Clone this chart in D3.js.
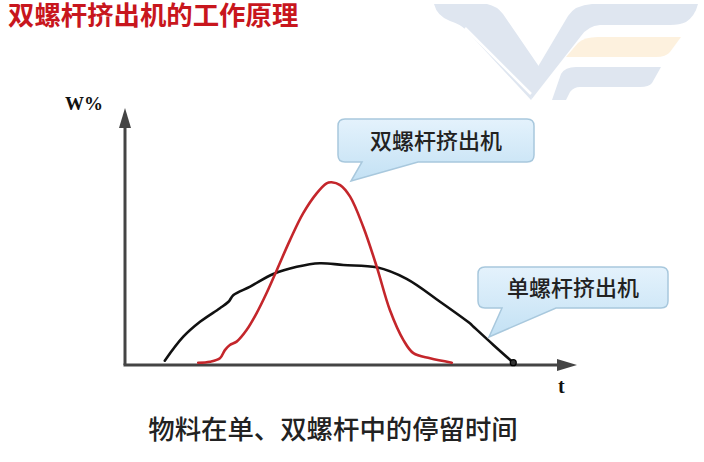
<!DOCTYPE html>
<html><head><meta charset="utf-8">
<script src="https://cdn.jsdelivr.net/npm/d3@7"></script>
<style>html,body{margin:0;padding:0;background:#fff;}svg{display:block;}</style>
</head><body>
<svg id="c" width="704" height="462"></svg>
<script>
// ---- data (arbitrary units: t 0..100, W% 0..100) ----
const twinT = [16.2,18.8,21.0,22.1,23.2,24.7,26.9,29.1,31.3,33.6,36.5,39.4,42.4,44.6,45.7,47.6,49.8,52.7,55.7,58.6,61.6,63.8,67.5,72.3];
const twinW = [0.9,1.3,2.6,5.8,7.8,9.1,13.6,20.1,27.9,37.0,48.6,59.0,66.8,70.7,71.1,70.0,65.5,53.8,38.2,21.4,9.7,4.6,2.6,0.9];
const singleT = [8.8,12.9,16.6,21.0,22.9,24.0,27.7,32.8,38.0,43.1,48.3,55.7,62.3,69.7,76.3,77.1,81.5,85.9];
const singleW = [1.7,11.0,16.8,22.1,24.6,27.2,30.5,35.4,38.2,39.6,38.9,38.0,33.5,24.6,16.2,14.9,7.8,0.9];
const seriesNames = ["双螺杆挤出机","单螺杆挤出机"];
const titleText = "双螺杆挤出机的工作原理";
const captionText = "物料在单、双螺杆中的停留时间";
const yLabel = "W%";
const xLabel = "t";

const svg = d3.select("#c");
const x = d3.scaleLinear().domain([0,100]).range([125,577]);
const y = d3.scaleLinear().domain([0,100]).range([365,108]);

// ---- watermark logo ----
const logo = svg.append("g");
const blue = "#dfe6f0", orange = "#fdf1de";
logo.append("path").attr("fill",blue)
  .attr("d","M434,4 L487,4 Q497,6 503,14 L540,68 L531,100 L466,30 Q460,24 450,21 Q437,16 434,4 Z");
logo.append("path").attr("fill",blue)
  .attr("d","M531,100 L536,70 L568,16 Q575,5 592,4 L698,4 Q695,16 686,22 Q680,25 670,25 L600,25 Q588,26 581,36 Z");
logo.append("path").attr("fill",orange)
  .attr("d","M566,57 L578,43 Q584,37 598,37 L681,37 L670,52 Q666,57 656,57 Z");
logo.append("path").attr("fill",blue)
  .attr("d","M552,100 L561,74 Q565,67 576,67 L661,67 L652,83 Q649,87 640,87 L580,87 Q574,87 570,92 L566,100 Z");
logo.append("line").attr("x1",465).attr("y1",28).attr("x2",531).attr("y2",94)
  .attr("stroke","#fff").attr("stroke-width",2.5);

// ---- title ----
svg.append("text").attr("x",8).attr("y",25).text(titleText)
  .attr("font-family","'Noto Sans CJK SC'").attr("font-weight","bold")
  .attr("font-size",26.4).attr("fill","#c8161d");

// ---- axes ----
const axisColor = "#444";
svg.append("line").attr("x1",x(0)).attr("y1",y(0)).attr("x2",x(0)).attr("y2",y(100)+14)
  .attr("stroke",axisColor).attr("stroke-width",3);
svg.append("line").attr("x1",x(0)-1.5).attr("y1",y(0)).attr("x2",x(100)-14).attr("y2",y(0))
  .attr("stroke",axisColor).attr("stroke-width",3);
svg.append("path").attr("fill",axisColor)
  .attr("d",`M${x(0)},${y(100)} L${x(0)-6},${y(100)+20} L${x(0)+6},${y(100)+20} Z`);
svg.append("path").attr("fill",axisColor)
  .attr("d",`M${x(100)},${y(0)} L${x(100)-20},${y(0)-6} L${x(100)-20},${y(0)+6} Z`);
svg.append("text").attr("x",65).attr("y",110).text(yLabel)
  .attr("font-family","'Liberation Serif'").attr("font-weight","bold").attr("font-size",19).attr("fill","#111");
svg.append("text").attr("x",558).attr("y",393).text(xLabel)
  .attr("font-family","'Liberation Serif'").attr("font-weight","bold").attr("font-size",20).attr("fill","#111");

// ---- curves ----
const line = d3.line().x(d=>x(d[0])).y(d=>y(d[1])).curve(d3.curveCatmullRom.alpha(0.5));
const single = d3.zip(singleT, singleW);
const twin = d3.zip(twinT, twinW);
svg.append("path").datum(single).attr("d",line).attr("fill","none")
  .attr("stroke","#111").attr("stroke-width",2.6).attr("stroke-linejoin","round").attr("stroke-linecap","round");
svg.append("path").datum(twin).attr("d",line).attr("fill","none")
  .attr("stroke","#c4262b").attr("stroke-width",2.6).attr("stroke-linejoin","round").attr("stroke-linecap","round");
const last = single[single.length-1];
svg.append("circle").attr("cx",x(last[0])).attr("cy",y(last[1])).attr("r",3)
  .attr("fill","#333").attr("stroke","#000").attr("stroke-width",1.2);

// ---- callouts ----
const defs = svg.append("defs");
const grad = defs.append("linearGradient").attr("id","cg").attr("x1",0).attr("y1",0).attr("x2",0).attr("y2",1);
grad.append("stop").attr("offset","0%").attr("stop-color","#e4f2fc");
grad.append("stop").attr("offset","100%").attr("stop-color","#c3e1f4");

function callout(bx,by,bw,bh,tx1,tx2,tipx,tipy,label){
  const r=7;
  const d = `M${bx+r},${by} L${bx+bw-r},${by} Q${bx+bw},${by} ${bx+bw},${by+r} L${bx+bw},${by+bh-r} Q${bx+bw},${by+bh} ${bx+bw-r},${by+bh}`+
    ` L${tx2},${by+bh} L${tipx},${tipy} L${tx1},${by+bh} L${bx+r},${by+bh} Q${bx},${by+bh} ${bx},${by+bh-r} L${bx},${by+r} Q${bx},${by} ${bx+r},${by} Z`;
  svg.append("path").attr("d",d).attr("fill","url(#cg)").attr("stroke","#a8c8dd").attr("stroke-width",1.5);
  svg.append("text").attr("x",bx+bw/2).attr("y",by+bh/2+8).attr("text-anchor","middle").text(label)
    .attr("font-family","'Noto Sans CJK SC'").attr("font-weight",500).attr("font-size",22).attr("fill","#222");
}
callout(338,119,196,43,362,418,351,181,seriesNames[0]);
callout(478,267,190,41,502,556,489,337,seriesNames[1]);

// ---- caption ----
svg.append("text").attr("x",333).attr("y",439).attr("text-anchor","middle").text(captionText)
  .attr("font-family","'Noto Sans CJK SC'").attr("font-weight",500).attr("font-size",26.4).attr("fill","#222");
</script>
</body></html>
